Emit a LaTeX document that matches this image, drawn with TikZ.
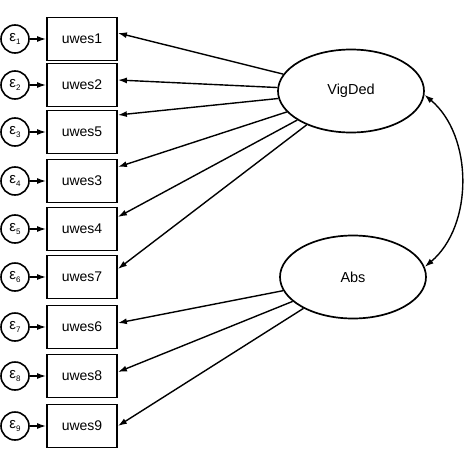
\documentclass[tikz,border=0pt]{standalone}
\usepackage{fontspec}
\setmainfont{Liberation Sans}
\usetikzlibrary{arrows.meta,shapes.geometric}
\tikzset{
  obs/.style={draw,line width=1.8pt,minimum width=70pt,minimum height=43pt,inner sep=0pt,font=\fontsize{14}{15}\selectfont},
  lat/.style={draw,ellipse,line width=1.7pt,minimum width=146pt,minimum height=83pt,inner sep=0pt,font=\fontsize{14.5}{15}\selectfont},
  err/.style={draw,circle,line width=1.6pt,minimum size=28pt,inner sep=0pt,font=\fontsize{15}{16}\selectfont},
  arr/.style={line width=1.4pt,-{Latex[length=9pt,width=6pt]}},
  dbl/.style={line width=1.4pt,{Latex[length=9pt,width=6pt]}-{Latex[length=9pt,width=6pt]}}
}
\newcommand{\eps}[1]{ε\raisebox{-2.5pt}{\fontsize{8}{9}\selectfont #1}}
\begin{document}
\begin{tikzpicture}[x=1pt,y=-1pt]
\useasboundingbox (0,0) rectangle (474,474);
% observed
\node[obs] (b1) at (82,39) {uwes1};
\node[obs] (b2) at (82,85) {uwes2};
\node[obs] (b5) at (82,132) {uwes5};
\node[obs] (b3) at (82,181) {uwes3};
\node[obs] (b4) at (82,229) {uwes4};
\node[obs] (b7) at (82,277) {uwes7};
\node[obs] (b6) at (82,327) {uwes6};
\node[obs] (b8) at (82,376) {uwes8};
\node[obs] (b9) at (82,426) {uwes9};
% errors
\node[err] (e1) at (15,39) {\eps{1}};
\node[err] (e2) at (15,85) {\eps{2}};
\node[err] (e3) at (15,132) {\eps{3}};
\node[err] (e4) at (15,181) {\eps{4}};
\node[err] (e5) at (15,229) {\eps{5}};
\node[err] (e6) at (15,277) {\eps{6}};
\node[err] (e7) at (15,327) {\eps{7}};
\node[err] (e8) at (15,376) {\eps{8}};
\node[err] (e9) at (15,426) {\eps{9}};
% latent
\node[lat] (V) at (351,91) {VigDed};
\node[lat] (A) at (353,277) {Abs};
% error arrows
\foreach \i/\b in {1/b1,2/b2,3/b5,4/b3,5/b4,6/b7,7/b6,8/b8,9/b9}
  \draw[arr] (e\i) -- (\b);
% loadings
\draw[arr] (V) -- ([yshift=6pt]b1.east);
\draw[arr] (V) -- ([yshift=5pt]b2.east);
\draw[arr] (V) -- ([yshift=17pt]b5.east);
\draw[arr] (V) -- ([yshift=14pt]b3.east);
\draw[arr] (V) -- ([yshift=12pt]b4.east);
\draw[arr] (V) -- ([yshift=8pt]b7.east);
\draw[arr] (A) -- ([yshift=4pt]b6.east);
\draw[arr] (A) -- ([yshift=4pt]b8.east);
\draw[arr] (A) -- (b9.east);
% covariance
\draw[dbl] (V.-3) to[out=-40,in=40,looseness=0.95] (A.8);
\end{tikzpicture}
\end{document}
